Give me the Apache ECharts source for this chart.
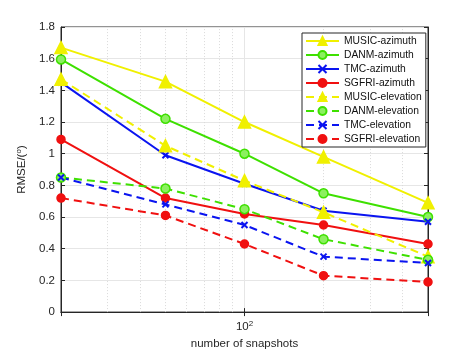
<!DOCTYPE html>
<html><head><meta charset="utf-8">
<script src="https://cdn.jsdelivr.net/npm/echarts@6/dist/echarts.min.js"></script>
<style>html,body{margin:0;padding:0;background:#fff}#c{width:474px;height:355px}</style>
</head><body><div id="c"></div>
<script>
var snapshots = [20, 50, 100, 200, 500];
var musicAz = [1.67, 1.455, 1.20, 0.98, 0.69];
var danmAz  = [1.595, 1.22, 1.00, 0.75, 0.60];
var tmcAz   = [1.45, 0.99, 0.81, 0.64, 0.57];
var sgfriAz = [1.09, 0.72, 0.62, 0.55, 0.43];
var musicEl = [1.47, 1.05, 0.83, 0.63, 0.35];
var danmEl  = [0.85, 0.78, 0.65, 0.46, 0.33];
var tmcEl   = [0.85, 0.68, 0.55, 0.35, 0.31];
var sgfriEl = [0.72, 0.61, 0.43, 0.23, 0.19];
var minorGridX = [30, 40, 50, 60, 70, 80, 90, 200, 300, 400];
var yTicks = [0, 0.2, 0.4, 0.6, 0.8, 1, 1.2, 1.4, 1.6, 1.8];

var YEL = '#f0f000', GRN = '#3ee000', BLU = '#0a14f0', RED = '#f01010';
var xPath = 'path://M0,0L10,10M10,0L0,10';
var FONT = '"Liberation Sans", Arial, sans-serif';

function pts(v){ return snapshots.map(function(s,i){ return [s, v[i]]; }); }

function mk(name, vals, color, symbol, size, dashed, fill){
  return {
    name: name, type: 'line', data: pts(vals),
    symbol: symbol, symbolSize: size,
    lineStyle: { color: color, width: 2, type: dashed ? [8,5] : 'solid' },
    itemStyle: { color: fill || color, borderColor: color, borderWidth: symbol === xPath ? 2 : 1.5 },
    z: 3
  };
}

var series = [
  mk('MUSIC-azimuth', musicAz, YEL, 'triangle', 12, false),
  mk('DANM-azimuth', danmAz, GRN, 'circle', 9, false, '#8cf060'),
  mk('TMC-azimuth', tmcAz, BLU, xPath, 6, false),
  mk('SGFRI-azimuth', sgfriAz, RED, 'circle', 8, false),
  mk('MUSIC-elevation', musicEl, YEL, 'triangle', 12, true),
  mk('DANM-elevation', danmEl, GRN, 'circle', 9, true, '#8cf060'),
  mk('TMC-elevation', tmcEl, BLU, xPath, 6, true),
  mk('SGFRI-elevation', sgfriEl, RED, 'circle', 8, true)
];
series[0].markLine = {
  silent: true, symbol: 'none', label: { show: false },
  lineStyle: { color: '#dadada', type: [1,2], width: 1 },
  data: minorGridX.map(function(x){ return { xAxis: x }; }),
  animation: false, z: 1
};

var chart = echarts.init(document.getElementById('c'), null, { renderer: 'canvas' });
chart.setOption({
  animation: false,
  backgroundColor: '#fff',
  textStyle: { fontFamily: FONT },
  grid: { left: 61, right: 46, top: 27, bottom: 38, show: true, borderColor: '#262626', borderWidth: 1, backgroundColor: 'transparent' },
  legend: {
    orient: 'vertical', left: 302, top: 33,
    backgroundColor: '#fff', borderColor: '#262626', borderWidth: 1,
    padding: [3, 4, 3, 3], itemWidth: 33, itemHeight: 10, itemGap: 4, itemTextGap: 3,
    textStyle: { fontSize: 10.3, color: '#111', fontFamily: FONT },
    data: series.map(function(s){ return s.name; })
  },
  xAxis: [{
    type: 'log', logBase: 10, min: 20, max: 500,
    name: 'number of snapshots', nameLocation: 'middle', nameGap: 24,
    nameTextStyle: { fontSize: 11.5, color: '#262626', fontFamily: FONT },
    axisLine: { show: true, lineStyle: { color: '#262626' } },
    axisTick: { show: true, inside: true, length: 4, lineStyle: { color: '#262626' } },
    axisLabel: {
      margin: 8, color: '#262626', fontSize: 11.5, fontFamily: FONT,
      formatter: function(v){ return Math.abs(v - 100) < 1e-6 ? '10{sup|2}' : ''; },
      rich: { sup: { fontSize: 8, verticalAlign: 'top', padding: [0,0,6,0], color: '#262626', fontFamily: FONT } }
    },
    splitLine: { show: true, lineStyle: { color: '#e6e6e6', width: 1 } },
    minorTick: { show: false }, minorSplitLine: { show: false }
  }, {
    type: 'log', logBase: 10, min: 20, max: 500, position: 'top',
    axisLine: { show: true, lineStyle: { color: '#262626' } },
    axisTick: { show: true, inside: true, length: 4, lineStyle: { color: '#262626' } },
    axisLabel: { show: false }, splitLine: { show: false }
  }],
  yAxis: [{
    type: 'value', min: 0, max: 1.8, interval: 0.2,
    name: 'RMSE/({sup|o})', nameLocation: 'middle', nameGap: 26,
    nameTextStyle: { fontSize: 11.5, color: '#262626', fontFamily: FONT,
      rich: { sup: { fontSize: 8, verticalAlign: 'top', padding: [0,0,6,0], color: '#262626', fontFamily: FONT } } },
    axisLine: { show: true, lineStyle: { color: '#262626' } },
    axisTick: { show: true, inside: true, length: 4, lineStyle: { color: '#262626' } },
    axisLabel: { margin: 6, color: '#262626', fontSize: 11.5, fontFamily: FONT,
      formatter: function(v){ var t = yTicks.filter(function(a){ return Math.abs(a - v) < 1e-6; }); return t.length ? String(t[0]) : ''; } },
    splitLine: { show: true, lineStyle: { color: '#e6e6e6', width: 1 } }
  }, {
    type: 'value', min: 0, max: 1.8, interval: 0.2, position: 'right',
    axisLine: { show: true, lineStyle: { color: '#262626' } },
    axisTick: { show: true, inside: true, length: 4, lineStyle: { color: '#262626' } },
    axisLabel: { show: false }, splitLine: { show: false }
  }],
  series: series
});
</script>
</body></html>
